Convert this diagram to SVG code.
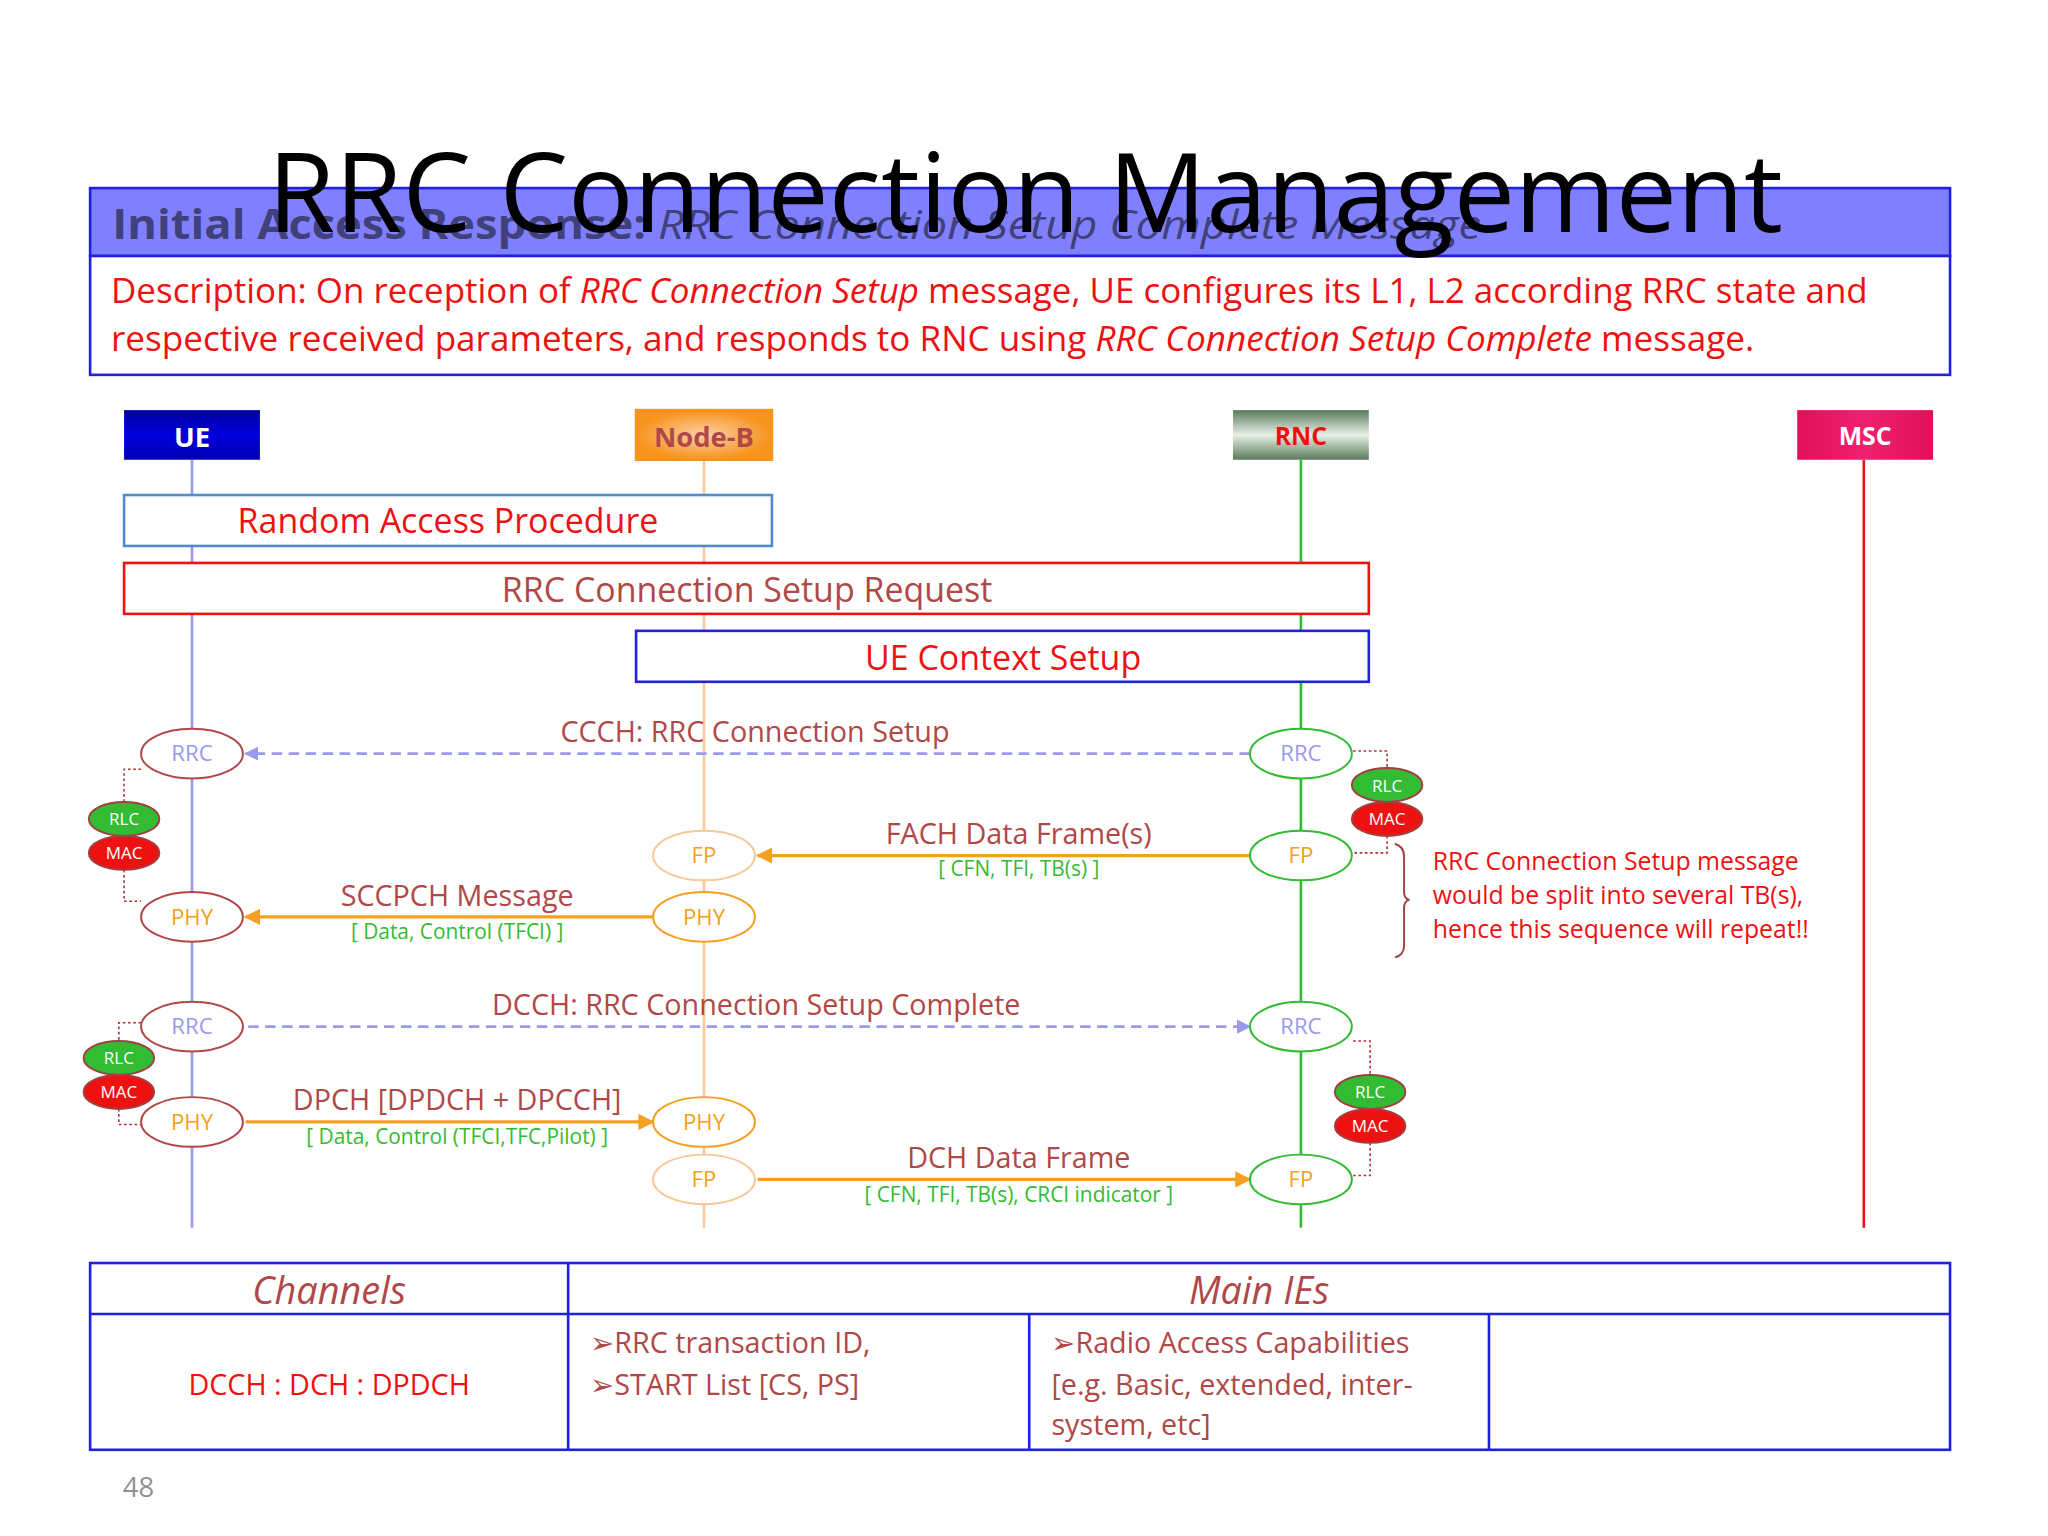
<svg xmlns="http://www.w3.org/2000/svg" width="2048" height="1536" viewBox="0 0 2048 1536">
<defs>
<linearGradient id="gUE" x1="0" y1="0" x2="0" y2="1"><stop offset="0" stop-color="#0000a0"/><stop offset="0.5" stop-color="#0000e0"/><stop offset="1" stop-color="#0000b0"/></linearGradient>
<radialGradient id="gNB"><stop offset="0" stop-color="#fcd0a8"/><stop offset="1" stop-color="#f7941d"/></radialGradient>
<linearGradient id="gRNC" x1="0" y1="0" x2="0" y2="1"><stop offset="0" stop-color="#5a7a5a"/><stop offset="0.5" stop-color="#e8f0e8"/><stop offset="1" stop-color="#5a7a5a"/></linearGradient>
<linearGradient id="gMSC" x1="0" y1="0" x2="1" y2="0"><stop offset="0" stop-color="#e0105a"/><stop offset="0.5" stop-color="#f02070"/><stop offset="1" stop-color="#e0105a"/></linearGradient>
<marker id="aB" viewBox="0 0 10 10" refX="9" refY="5" markerWidth="5.5" markerHeight="5.5" orient="auto-start-reverse"><path d="M0,0L10,5L0,10z" fill="#9999ee"/></marker>
<marker id="aO" viewBox="0 0 10 10" refX="9" refY="5" markerWidth="5" markerHeight="5" orient="auto-start-reverse"><path d="M0,0L10,5L0,10z" fill="#f5a020"/></marker>
</defs>
<style>
text{font-family:"Open Sans","Noto Sans",sans-serif}
.m{fill:#b04848;font-size:22px;text-anchor:middle}
.s{fill:#33bb33;font-size:16px;text-anchor:middle}
.e{fill:#fff;stroke-width:1.5}
.et{font-size:17px;text-anchor:middle}
.rlc{fill:#33bb33;stroke:#a04040;stroke-width:1.5}
.mac{fill:#ee1111;stroke:#a04040;stroke-width:1.5}
.st{fill:#fff;font-size:13px;text-anchor:middle}
.dot{fill:none;stroke:#b03030;stroke-width:1.2;stroke-dasharray:2 2}
.c{fill:#b04848;font-size:22px}
</style>
<rect width="2048" height="1536" fill="#fff"/>
<g transform="scale(1.306122)">
<g id="header">
<rect x="69" y="144" width="1424" height="52" fill="#8080ff" stroke="#2020e0" stroke-width="2"/>
<text x="86" y="183" font-size="31" fill="#40407a" textLength="1048" lengthAdjust="spacingAndGlyphs"><tspan font-weight="bold">Initial Access Response: </tspan><tspan font-style="italic">RRC Connection Setup Complete Message</tspan></text>
<rect x="69" y="196" width="1424" height="91" fill="#fff" stroke="#2020e0" stroke-width="2"/>
<text x="85" y="232" font-size="26" fill="#ee1111" textLength="1345" lengthAdjust="spacingAndGlyphs">Description: On reception of <tspan font-style="italic">RRC Connection Setup</tspan> message, UE configures its L1, L2 according RRC state and</text>
<text x="85" y="269" font-size="26" fill="#ee1111" textLength="1258" lengthAdjust="spacingAndGlyphs">respective received parameters, and responds to RNC using <tspan font-style="italic">RRC Connection Setup Complete</tspan> message.</text>
<text x="205" y="178" font-size="84" fill="#000" textLength="1160" lengthAdjust="spacingAndGlyphs">RRC Connection Management</text>
</g>
<g id="lifelines">
<line x1="147" y1="352" x2="147" y2="940" stroke="#9999ee" stroke-width="2"/>
<line x1="539" y1="352" x2="539" y2="940" stroke="#f8c898" stroke-width="2"/>
<line x1="996" y1="352" x2="996" y2="940" stroke="#33bb33" stroke-width="2"/>
<line x1="1427" y1="352" x2="1427" y2="940" stroke="#ee1111" stroke-width="2"/>
</g>
<g id="UE"><rect x="95" y="314" width="104" height="38" fill="url(#gUE)"/><text x="147" y="342" font-size="21" font-weight="bold" fill="#fff" text-anchor="middle">UE</text></g>
<g id="NodeB"><rect x="487" y="314" width="104" height="38" fill="url(#gNB)" stroke="#f7941d" stroke-width="2"/><text x="539" y="342" font-size="21" font-weight="bold" fill="#b04848" text-anchor="middle">Node-B</text></g>
<g id="RNC"><rect x="944" y="314" width="104" height="38" fill="url(#gRNC)"/><text x="996" y="341" font-size="19" font-weight="bold" fill="#ee1111" text-anchor="middle">RNC</text></g>
<g id="MSC"><rect x="1376" y="314" width="104" height="38" fill="url(#gMSC)"/><text x="1428" y="341" font-size="19" font-weight="bold" fill="#fff" text-anchor="middle">MSC</text></g>
<g id="procs">
<rect x="95" y="379" width="496" height="39" fill="#fff" stroke="#5588cc" stroke-width="2"/><text x="343" y="408" font-size="26" fill="#ee1111" text-anchor="middle">Random Access Procedure</text>
<rect x="95" y="431" width="953" height="39" fill="#fff" stroke="#ee1111" stroke-width="2"/><text x="572" y="461" font-size="26" fill="#b04848" text-anchor="middle">RRC Connection Setup Request</text>
<rect x="487" y="483" width="561" height="39" fill="#fff" stroke="#2020e0" stroke-width="2"/><text x="768" y="513" font-size="26" fill="#ee1111" text-anchor="middle">UE Context Setup</text>
</g>
<g id="connectors">
<line x1="957" y1="577" x2="188" y2="577" stroke="#9999ee" stroke-width="2" stroke-dasharray="8 5" marker-end="url(#aB)"/>
<line x1="957" y1="655" x2="580" y2="655" stroke="#f5a020" stroke-width="2.5" marker-end="url(#aO)"/>
<line x1="500" y1="702" x2="188" y2="702" stroke="#f5a020" stroke-width="2.5" marker-end="url(#aO)"/>
<line x1="190" y1="786" x2="957" y2="786" stroke="#9999ee" stroke-width="2" stroke-dasharray="8 5" marker-end="url(#aB)"/>
<line x1="188" y1="859" x2="500" y2="859" stroke="#f5a020" stroke-width="2.5" marker-end="url(#aO)"/>
<line x1="580" y1="903" x2="957" y2="903" stroke="#f5a020" stroke-width="2.5" marker-end="url(#aO)"/>
<path class="dot" d="M108,589H95V614M95,666V690H108"/>
<path class="dot" d="M1036,575H1062V588M1062,640V653H1036"/>
<path class="dot" d="M108,783H91V797M91,849V861H108"/>
<path class="dot" d="M1036,797H1049V823M1049,875V900H1036"/>
<text class="m" x="578" y="568">CCCH: RRC Connection Setup</text>
<text class="m" x="780" y="646">FACH Data Frame(s)</text><text class="s" x="780" y="671">[ CFN, TFI, TB(s) ]</text>
<text class="m" x="350" y="694">SCCPCH Message</text><text class="s" x="350" y="719">[ Data, Control (TFCI) ]</text>
<text class="m" x="579" y="777">DCCH: RRC Connection Setup Complete</text>
<text class="m" x="350" y="850">DPCH [DPDCH + DPCCH]</text><text class="s" x="350" y="876">[ Data, Control (TFCI,TFC,Pilot) ]</text>
<text class="m" x="780" y="894">DCH Data Frame</text><text class="s" x="780" y="920">[ CFN, TFI, TB(s), CRCI indicator ]</text>
</g>
<g id="ue-stack">
<ellipse class="e" cx="147" cy="577" rx="39" ry="19" stroke="#b04848"/><text class="et" x="147" y="583" fill="#9999ee">RRC</text>
<ellipse class="rlc" cx="95" cy="627" rx="27" ry="13"/><text class="st" x="95" y="632">RLC</text>
<ellipse class="mac" cx="95" cy="653" rx="27" ry="13"/><text class="st" x="95" y="658">MAC</text>
<ellipse class="e" cx="147" cy="702" rx="39" ry="19" stroke="#b04848"/><text class="et" x="147" y="708" fill="#f5a020">PHY</text>
<ellipse class="e" cx="147" cy="786" rx="39" ry="19" stroke="#b04848"/><text class="et" x="147" y="792" fill="#9999ee">RRC</text>
<ellipse class="rlc" cx="91" cy="810" rx="27" ry="13"/><text class="st" x="91" y="815">RLC</text>
<ellipse class="mac" cx="91" cy="836" rx="27" ry="13"/><text class="st" x="91" y="841">MAC</text>
<ellipse class="e" cx="147" cy="859" rx="39" ry="19" stroke="#b04848"/><text class="et" x="147" y="865" fill="#f5a020">PHY</text>
</g>
<g id="nb-stack">
<ellipse class="e" cx="539" cy="655" rx="39" ry="19" stroke="#f8c898"/><text class="et" x="539" y="661" fill="#f5a020">FP</text>
<ellipse class="e" cx="539" cy="702" rx="39" ry="19" stroke="#f5a020"/><text class="et" x="539" y="708" fill="#f5a020">PHY</text>
<ellipse class="e" cx="539" cy="859" rx="39" ry="19" stroke="#f5a020"/><text class="et" x="539" y="865" fill="#f5a020">PHY</text>
<ellipse class="e" cx="539" cy="903" rx="39" ry="19" stroke="#f8c898"/><text class="et" x="539" y="909" fill="#f5a020">FP</text>
</g>
<g id="rnc-stack">
<ellipse class="e" cx="996" cy="577" rx="39" ry="19" stroke="#33bb33"/><text class="et" x="996" y="583" fill="#9999ee">RRC</text>
<ellipse class="rlc" cx="1062" cy="601" rx="27" ry="13"/><text class="st" x="1062" y="606">RLC</text>
<ellipse class="mac" cx="1062" cy="627" rx="27" ry="13"/><text class="st" x="1062" y="632">MAC</text>
<ellipse class="e" cx="996" cy="655" rx="39" ry="19" stroke="#33bb33"/><text class="et" x="996" y="661" fill="#f5a020">FP</text>
<ellipse class="e" cx="996" cy="786" rx="39" ry="19" stroke="#33bb33"/><text class="et" x="996" y="792" fill="#9999ee">RRC</text>
<ellipse class="rlc" cx="1049" cy="836" rx="27" ry="13"/><text class="st" x="1049" y="841">RLC</text>
<ellipse class="mac" cx="1049" cy="862" rx="27" ry="13"/><text class="st" x="1049" y="867">MAC</text>
<ellipse class="e" cx="996" cy="903" rx="39" ry="19" stroke="#33bb33"/><text class="et" x="996" y="909" fill="#f5a020">FP</text>
</g>
<g id="note">
<path d="M1068,646Q1075,648 1075,656V683Q1075,688 1079,689Q1075,690 1075,695V724Q1075,731 1068,733" fill="none" stroke="#a04040" stroke-width="1.5"/>
<text x="1097" y="666" font-size="19" fill="#ee1111">RRC Connection Setup message</text>
<text x="1097" y="692" font-size="19" fill="#ee1111">would be split  into several TB(s),</text>
<text x="1097" y="718" font-size="19" fill="#ee1111">hence this sequence will repeat!!</text>
</g>
<g id="table" fill="none" stroke="#2020e0" stroke-width="2">
<rect x="69" y="967" width="1424" height="143"/>
<line x1="69" y1="1006" x2="1493" y2="1006"/>
<line x1="435" y1="967" x2="435" y2="1110"/>
<line x1="788" y1="1006" x2="788" y2="1110"/>
<line x1="1140" y1="1006" x2="1140" y2="1110"/>
</g>
<g id="table-text">
<text x="252" y="998" font-size="29" font-style="italic" fill="#b04848" text-anchor="middle">Channels</text>
<text x="964" y="998" font-size="29" font-style="italic" fill="#b04848" text-anchor="middle">Main IEs</text>
<text x="252" y="1068" font-size="22" fill="#ee1111" text-anchor="middle">DCCH : DCH : DPDCH</text>
<text class="c" x="452" y="1036">➢RRC transaction ID,</text>
<text class="c" x="452" y="1068">➢START List [CS, PS]</text>
<text class="c" x="805" y="1036">➢Radio Access Capabilities</text>
<text class="c" x="805" y="1068">[e.g. Basic, extended, inter-</text>
<text class="c" x="805" y="1099">system, etc]</text>
<text x="94" y="1146" font-size="21" fill="#909090">48</text>
</g>
</g>
</svg>
